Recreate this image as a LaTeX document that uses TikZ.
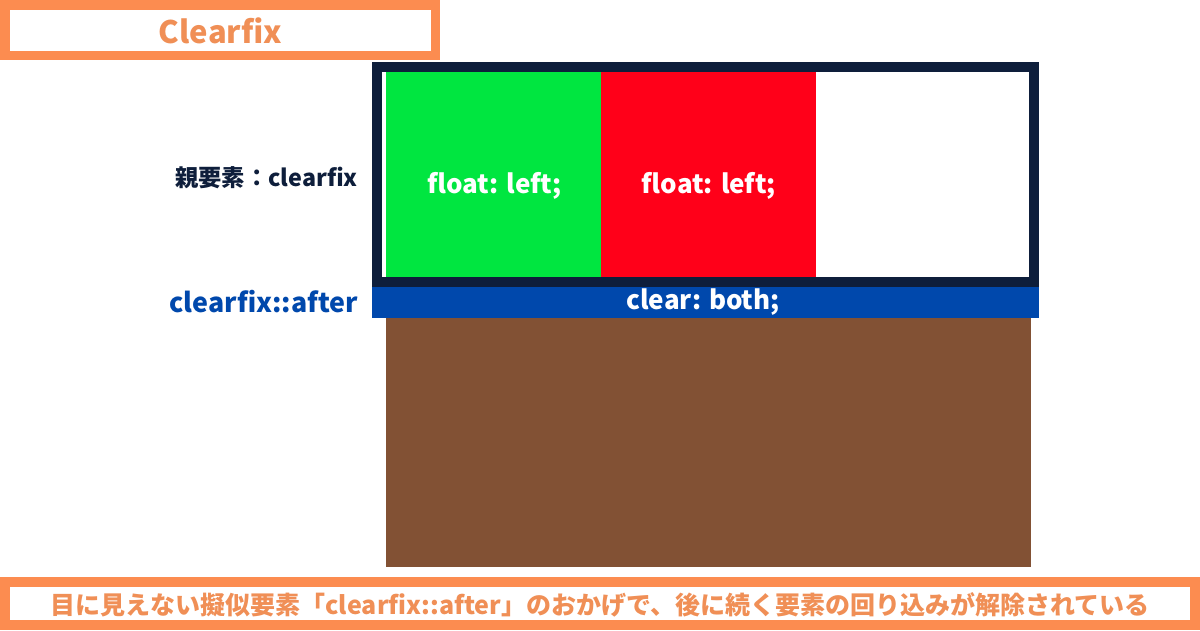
\documentclass[tikz,border=0pt]{standalone}
\usepackage{fontspec}
\setmainfont{Noto Sans CJK JP}
\definecolor{orangeB}{HTML}{FC8C50}
\definecolor{orangeT}{HTML}{F08F56}
\definecolor{navy}{HTML}{0E1E3B}
\definecolor{blueB}{HTML}{0048AC}
\definecolor{greenB}{HTML}{00E640}
\definecolor{redB}{HTML}{FF0019}
\definecolor{brownB}{HTML}{825134}
\begin{document}
\begin{tikzpicture}[x=1pt,y=-1pt,
  blk/.style={rectangle,inner sep=0pt,outer sep=0pt,draw=none},
  lbl/.style={inner sep=0pt,font=\bfseries\fontsize{26}{30}\selectfont,text=white}]
\useasboundingbox (0,0) rectangle (1200,630);
\fill[white] (0,0) rectangle (1200,630);
% title
\node[blk,draw=orangeB,line width=9.5pt,fill=white,minimum width=430.5,minimum height=50.5] (title) at (220,30) {};
\node[inner sep=0pt,text=orangeT,font=\bfseries\fontsize{31}{35}\selectfont] (titletext) at (220.5,31) {Clearfix};
% parent
\node[blk,fill=white,minimum width=657,minimum height=215] (parentfill) at (705.5,174.5) {};
\node[blk,fill=greenB,minimum width=215,minimum height=205] (green) at (493.5,174.5) {};
\node[lbl] (greentext) at (494.5,186) {float: left;};
\node[blk,fill=redB,minimum width=215,minimum height=205] (red) at (708.5,174.5) {};
\node[lbl] (redtext) at (709,186) {float: left;};
\node[blk,draw=navy,line width=10pt,minimum width=657,minimum height=215] (parent) at (705.5,174.5) {};
% after
\node[blk,fill=blueB,minimum width=667,minimum height=31] (after) at (705.5,302.5) {};
\node[lbl] (aftertext) at (703,302) {clear: both;};
% brown
\node[blk,fill=brownB,minimum width=645,minimum height=249] (brown) at (708.5,442.5) {};
% labels
\node[inner sep=0pt,anchor=east,text=navy,font=\bfseries\fontsize{23.3}{27}\selectfont] (plabel) at (358,178) {親要素：clearfix};
\node[inner sep=0pt,anchor=east,text=blueB,font=\bfseries\fontsize{26.8}{31}\selectfont] (alabel) at (358,302) {clearfix::after};
% bottom
\node[blk,draw=orangeB,line width=10pt,fill=white,minimum width=1190,minimum height=43] (bottom) at (600,603.5) {};
\node[inner sep=0pt,text=orangeT,font=\bfseries\fontsize{25}{29}\selectfont] (bottomtext) at (600,605) {目に見えない擬似要素「clearfix::after」のおかげで、後に続く要素の回り込みが解除されている};
\end{tikzpicture}
\end{document}
